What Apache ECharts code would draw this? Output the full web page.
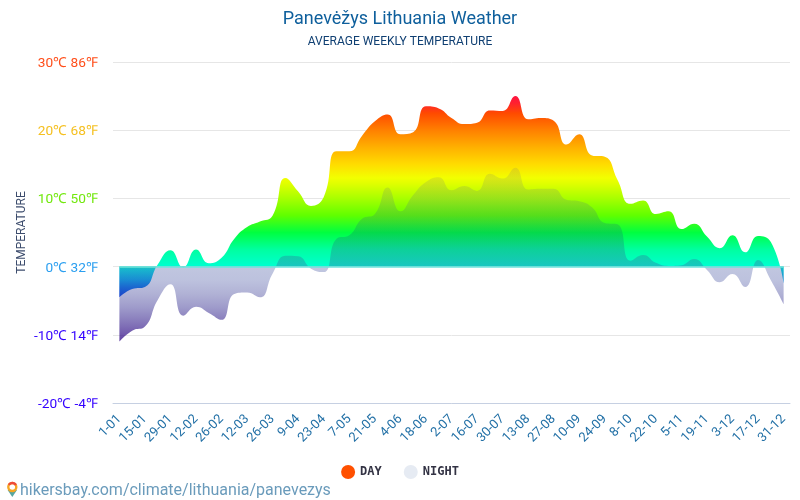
<!DOCTYPE html>
<html><head><meta charset="utf-8">
<style>html,body{margin:0;padding:0;background:#fff}#c{width:800px;height:500px}</style>
<script src="https://cdn.jsdelivr.net/npm/echarts@6/dist/echarts.min.js"></script>
</head><body><div id="c"></div>
<script>
const weeks = ['1-01','8-01','15-01','22-01','29-01','5-02','12-02','19-02','26-02','5-03','12-03','19-03','26-03','2-04','9-04','16-04','23-04','30-04','7-05','14-05','21-05','28-05','4-06','11-06','18-06','25-06','2-07','9-07','16-07','23-07','30-07','6-08','13-08','20-08','27-08','3-09','10-09','17-09','24-09','1-10','8-10','15-10','22-10','29-10','5-11','12-11','19-11','26-11','3-12','10-12','17-12','24-12','31-12'];
const dayTemps = [-4.5,-3.3,-3.0,0.3,2.4,-0.1,2.5,0.5,1.3,4.1,5.8,6.6,7.5,13.0,11.0,8.9,10.2,16.9,16.9,19.2,21.3,22.3,19.4,19.7,23.5,23.2,21.8,20.9,21.1,22.9,22.8,25.0,21.6,21.8,21.4,17.9,19.4,16.3,16.1,12.7,9.2,9.7,7.7,8.1,5.5,6.3,4.4,2.7,4.6,2.1,4.5,3.6,-2.4];
const nightTemps = [-11.0,-9.4,-8.8,-4.9,-2.6,-7.2,-5.9,-6.8,-7.8,-4.0,-3.8,-4.5,-1.0,1.6,1.5,-0.3,-0.8,4.1,4.6,7.0,7.7,11.6,8.1,10.5,12.4,13.1,11.2,11.8,11.1,13.6,12.9,14.5,11.3,11.4,11.4,9.8,9.6,8.7,6.4,6.2,0.85,1.7,0.55,0.1,0.2,1.1,-0.5,-2.3,-1.1,-3.0,0.95,-2.0,-5.5];
const tickC = {30:'86',20:'68',10:'50',0:'32','-10':'14','-20':'-4'};
const tickColors = {30:'#ff4e1a',20:'#f5c021',10:'#72e80e',0:'#2b9ff0','-10':'#3300ff','-20':'#3300ff'};
const dayRampTemps = [30,25,24,22.5,20,17.5,15,13,12,10,7.5,5,2.5,0,-0.5,-2,-3,-4.5,-20];
const dayRampColors = ['#ff0060','#ff1440','#ff2030','#ff4a00','#ff8000','#ffb000','#ffdc00','#f2ff00','#dcff00','#a8ff00','#60ff00','#00ff40','#00ffa0','#00ffd0','#00e4e4','#00a8ee','#0078ee','#0040ee','#3000ff'];
const nightRampTemps = [30,15,13,10,5,0,-2,-4,-6,-8,-10,-11,-20];
const nightRampColors = ['rgba(70,70,163,.12)','rgba(70,70,163,.12)','rgba(70,70,163,.13)','rgba(71,80,163,.16)','rgba(20,100,110,.24)','rgba(71,90,163,.34)','rgba(71,85,163,.36)','rgba(68,70,155,.42)','rgba(62,55,150,.5)','rgba(56,35,142,.6)','rgba(50,15,136,.7)','rgba(48,5,133,.76)','rgba(48,5,133,.76)'];
const chart = echarts.init(document.getElementById('c'), null, {renderer:'canvas'});
chart.setOption({
  animation:false,
  backgroundColor:'#fff',
  textStyle:{fontFamily:'Roboto'},
  title:{text:'Panevėžys Lithuania Weather',subtext:'AVERAGE WEEKLY TEMPERATURE',left:'center',top:5,itemGap:8,
    textStyle:{fontFamily:'Roboto',fontSize:18,fontWeight:'normal',color:'#0e5f9c'},
    subtextStyle:{fontFamily:'Roboto',fontSize:12,color:'#0f3f72'}},
  legend:{bottom:16,left:'center',icon:'circle',itemWidth:14,itemHeight:14,itemGap:22,
    textStyle:{fontFamily:'DejaVu Sans Mono',fontSize:12,fontWeight:'bold',color:'#333344'},
    data:[{name:'DAY',itemStyle:{color:'#ff5000'}},{name:'NIGHT',itemStyle:{color:'#e6ebf3'}}]},
  grid:{left:113,right:10,top:62,bottom:97},
  xAxis:{type:'category',data:weeks,boundaryGap:true,axisLine:{onZero:false,lineStyle:{color:'#c6d0e2'}},
    axisTick:{alignWithLabel:true,interval:1,length:9,lineStyle:{color:'#c6d0e2'}},
    axisLabel:{interval:1,rotate:45,fontSize:13,fontFamily:'Roboto',color:'#2270a6',margin:14},splitLine:{show:false}},
  yAxis:{type:'value',min:-20,max:30,interval:10,name:'TEMPERATURE',nameLocation:'middle',nameRotate:90,nameGap:85,nameMoveOverlap:false,
    nameTextStyle:{fontFamily:'Roboto',fontSize:12,color:'#3d4d6d'},
    axisLine:{show:false},axisTick:{show:false},splitLine:{lineStyle:{color:'#e6e6e6'}},
    axisLabel:{margin:15,fontSize:13.7,fontFamily:'Roboto',verticalAlign:'top',lineHeight:3,formatter:v=>v+'℃ '+tickC[v]+'℉',
      color:v=>tickColors[v]}},
  series:[
    {name:'DAY',type:'line',data:dayTemps,smooth:0.5,showSymbol:false,lineStyle:{width:0},areaStyle:{opacity:1,color:'#ff5000'},z:2,silent:true,
     markLine:{silent:true,symbol:'none',animation:false,label:{show:false},lineStyle:{color:'#6fe3dc',width:1.5,type:'solid'},
       data:[[{xAxis:weeks[0],yAxis:0},{xAxis:weeks[weeks.length-1],yAxis:0}]]}},
    {name:'NIGHT',type:'line',data:nightTemps,smooth:0.5,showSymbol:false,lineStyle:{width:0},areaStyle:{opacity:1,color:'#c0c8e0'},z:3,silent:true}
  ],
  graphic:[
    {type:'text',left:20,top:483,style:{text:'hikersbay.com/climate/lithuania/panevezys',fontFamily:'Roboto',fontSize:16,fill:'#6a9bbb'}},
    {type:'polygon',shape:{points:[[7.6,490],[17,490],[12.3,497]]},style:{fill:'#58a6a0'}},
    {type:'circle',shape:{cx:12.3,cy:487,r:4},style:{fill:'#fff',stroke:'#f6a623',lineWidth:2.4}},
    {type:'arc',shape:{cx:12.3,cy:487,r:4,startAngle:-2.6,endAngle:-0.5},style:{fill:'none',stroke:'#ee4b3a',lineWidth:2.4}}
  ]
});
// Area fills are colour ramps along the temperature axis, placed through the axis scale.
const yAt = v => chart.convertToPixel({yAxisIndex:0}, v);
const yTop = yAt(30), yBottom = yAt(-20);
const ramp = (temps, colors) => new echarts.graphic.LinearGradient(0, yTop, 0, yBottom,
  temps.map((t,i)=>({offset:(yAt(t)-yTop)/(yBottom-yTop), color:colors[i]})), true);
chart.setOption({series:[
  {name:'DAY',areaStyle:{opacity:1,color:ramp(dayRampTemps,dayRampColors)}},
  {name:'NIGHT',areaStyle:{opacity:1,color:ramp(nightRampTemps,nightRampColors)}}
]});
</script></body></html>
